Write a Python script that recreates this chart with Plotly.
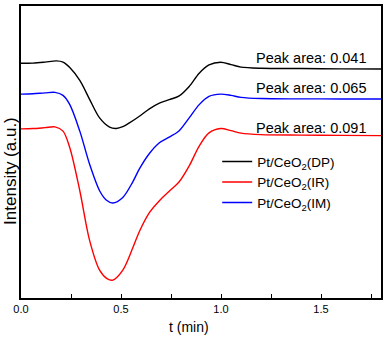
import plotly.graph_objects as go

t_dp = [0, 0.06, 0.12, 0.177, 0.21, 0.244, 0.294, 0.343, 0.393, 0.443, 0.476, 0.509,
        0.542, 0.592, 0.642, 0.692, 0.741, 0.791, 0.841, 0.891, 0.94, 0.998, 1.05,
        1.1, 1.2, 1.4, 1.6, 1.8]
px_dp = [61.7, 61.5, 60.5, 59.3, 60.5, 66, 79, 98, 116.7, 126, 127.3, 125.5,
         121.7, 115, 107.5, 101.7, 98.3, 94.5, 85, 71.7, 63.3, 60.7, 63,
         65.5, 66.7, 67, 67.3, 67.5]

t_im = [0, 0.06, 0.12, 0.17, 0.21, 0.244, 0.294, 0.343, 0.393, 0.426, 0.459, 0.509,
        0.559, 0.592, 0.642, 0.692, 0.741, 0.791, 0.841, 0.891, 0.94, 0.998, 1.05,
        1.1, 1.2, 1.4, 1.6, 1.8]
px_im = [92.7, 92.4, 91.5, 91, 94, 103.3, 130, 163.3, 190, 199.3, 202.3, 196.7,
         181, 168, 152.5, 141.7, 136, 129.5, 116.7, 103.3, 95, 92.7, 94,
         96, 97.2, 97.5, 97.6, 97.7]

t_ir = [0, 0.06, 0.12, 0.17, 0.21, 0.244, 0.294, 0.343, 0.393, 0.43, 0.459, 0.509,
        0.559, 0.592, 0.642, 0.692, 0.741, 0.791, 0.841, 0.891, 0.94, 0.998, 1.05,
        1.1, 1.2, 1.4, 1.6, 1.8]
px_ir = [127.7, 127.4, 126.5, 125.7, 130, 146.7, 190, 240, 270, 278.5, 280, 270,
         247.5, 231, 212, 200, 190.5, 181, 165, 145, 131.7, 127.3, 129.5,
         132, 133.5, 134, 134.3, 134.5]

TOP = 298
int_dp = [TOP - v for v in px_dp]
int_im = [TOP - v for v in px_im]
int_ir = [TOP - v for v in px_ir]

names = ["Pt/CeO<sub>2</sub>(DP)", "Pt/CeO<sub>2</sub>(IR)", "Pt/CeO<sub>2</sub>(IM)"]
colors = ["#000000", "#ff0000", "#0000ff"]
peak_labels = ["Peak area: 0.041", "Peak area: 0.065", "Peak area: 0.091"]
peak_label_y = [242, 211, 171]

FONT = "Liberation Sans"

fig = go.Figure()
for t, y, n, c in [(t_dp, int_dp, names[0], colors[0]),
                   (t_ir, int_ir, names[1], colors[1]),
                   (t_im, int_im, names[2], colors[2])]:
    fig.add_trace(go.Scatter(x=t, y=y, mode="lines", name=n,
                             line=dict(color=c, width=1.4, shape="spline", smoothing=0.9)))

for lab, yy in zip(peak_labels, peak_label_y):
    fig.add_annotation(x=1.165, y=yy, xref="x", yref="y", text=lab, showarrow=False,
                       xanchor="left", yanchor="middle",
                       font=dict(family=FONT, size=14.5, color="#000"))

# axis titles placed as in the reference
fig.add_annotation(x=-10 / 362, y=(298 - 170) / 294, xref="paper", yref="paper",
                   text="Intensity (a.u.)", textangle=-90, showarrow=False,
                   xanchor="center", yanchor="middle",
                   font=dict(family=FONT, size=17, color="#000"))
fig.add_annotation(x=(190 - 21) / 362, y=-(327 - 298) / 294, xref="paper", yref="paper",
                   text="t (min)", showarrow=False, xanchor="center", yanchor="middle",
                   font=dict(family=FONT, size=14, color="#000"))

fig.update_layout(
    width=387, height=339,
    margin=dict(l=21, r=4, t=4, b=41),
    paper_bgcolor="white", plot_bgcolor="white",
    font=dict(family=FONT, color="#000"),
    showlegend=True,
    legend=dict(x=0.545, y=0.52, xanchor="left", yanchor="top",
                bgcolor="rgba(0,0,0,0)", font=dict(family=FONT, size=13.5),
                itemwidth=30, tracegroupgap=0),
    xaxis=dict(range=[0, 1.8], tickvals=[0, 0.5, 1.0, 1.5],
               ticktext=["0.0", "0.5", "1.0", "1.5"],
               ticks="inside", ticklen=4, tickwidth=1, tickcolor="#000",
               minor=dict(tickvals=[0.25, 0.75, 1.25, 1.75], ticks="inside", ticklen=4,
                          tickcolor="#000", tickwidth=1),
               showline=True, linecolor="#000", linewidth=1.5, mirror=True,
               showgrid=False, zeroline=False,
               tickfont=dict(family=FONT, size=11)),
    yaxis=dict(range=[0, 294], showticklabels=False, ticks="",
               showline=True, linecolor="#000", linewidth=1.5, mirror=True,
               showgrid=False, zeroline=False),
)

fig.write_html("out.html")
